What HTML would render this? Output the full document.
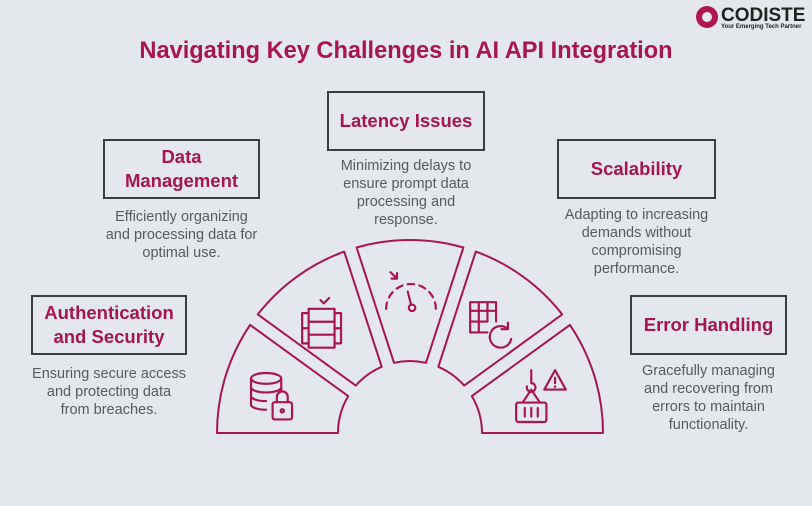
<!DOCTYPE html>
<html><head><meta charset="utf-8"><style>
body{margin:0;width:812px;height:506px;background:#e4e7eb;font-family:"Liberation Sans",sans-serif;position:relative;overflow:hidden}
.t{position:absolute;left:0;width:812px;top:38px;text-align:center;color:#a8154f;font-weight:bold;font-size:23.6px}
.b{position:absolute;border:2px solid #3d3d42;box-sizing:border-box;display:flex;align-items:center;justify-content:center;text-align:center;color:#a8154f;font-weight:bold;font-size:18.5px;line-height:24px}
.d{position:absolute;text-align:center;color:#5a5a5e;font-size:14.5px;line-height:18px}
</style></head><body>
<div class="t">Navigating Key Challenges in AI API Integration</div>
<div style="position:absolute;left:696px;top:6px;width:22px;height:22px;border-radius:50%;background:#b0164f"></div>
<div style="position:absolute;left:702px;top:12px;width:10px;height:10px;border-radius:50%;background:#e4e7eb"></div>
<div style="position:absolute;left:721px;top:5px;font-weight:bold;font-size:19px;color:#222">CODISTE</div>
<div style="position:absolute;left:721px;top:24px;font-weight:bold;font-size:6px;color:#222">Your Emerging Tech Partner</div>

<div class="b" style="left:103px;top:139px;width:157px;height:60px">Data<br>Management</div>
<div class="d" style="left:88px;top:208px;width:187px">Efficiently organizing<br>and processing data for<br>optimal use.</div>
<div class="b" style="left:327px;top:91px;width:158px;height:60px">Latency Issues</div>
<div class="d" style="left:314px;top:157px;width:184px">Minimizing delays to<br>ensure prompt data<br>processing and<br>response.</div>
<div class="b" style="left:557px;top:139px;width:159px;height:60px">Scalability</div>
<div class="d" style="left:544px;top:206px;width:185px">Adapting to increasing<br>demands without<br>compromising<br>performance.</div>
<div class="b" style="left:31px;top:295px;width:156px;height:60px">Authentication<br>and Security</div>
<div class="d" style="left:16px;top:365px;width:186px">Ensuring secure access<br>and protecting data<br>from breaches.</div>
<div class="b" style="left:630px;top:295px;width:157px;height:60px">Error Handling</div>
<div class="d" style="left:616px;top:362px;width:185px">Gracefully managing<br>and recovering from<br>errors to maintain<br>functionality.</div>

<svg id="s" width="812" height="506" style="position:absolute;left:0;top:0" fill="none" stroke="#a8154f" stroke-width="2" stroke-linejoin="round" stroke-linecap="round">
<g transform="translate(251,373) scale(1.08)">
<ellipse cx="14" cy="5" rx="14" ry="5"/><path d="M0 5v24c0 3 6 5 14 5M28 5v12M0 13c0 3 6 5 14 5s14-2 14-5M0 21c0 3 6 5 14 5"/>
<rect x="20" y="27" width="18" height="16" rx="2"/><path d="M24 27v-5a5 5 0 0 1 10 0v5"/><circle cx="29" cy="35" r="1.5"/>
</g>
<g transform="translate(300,298) scale(1.08)">
<path d="M19 2l3 3 5-5"/><rect x="8" y="10" width="24" height="36"/><path d="M8 22h24M8 34h24M8 14H2v28h6M2 28h6M32 14h6v28h-6M32 28h6"/>
</g>
<g transform="translate(384,270) scale(1.08)">
<path d="M6 2l6 6M12 3v5h-5"/><path d="M2 36a23 23 0 0 1 46 0" stroke-dasharray="6 5"/><path d="M22 20l3 12"/><circle cx="26" cy="35" r="3"/>
</g>
<g transform="translate(468,300) scale(1.08)">
<path d="M26 20V2H2v28h16M2 10h24M2 20h16M10 2v28M18 2v18"/><path d="M40 36a10 10 0 1 1-4-10"/><path d="M37 21v6h-6"/>
</g>
<g transform="translate(514,368) scale(1.08)">
<path d="M16 2v12a4 4 0 1 1-4 3"/><path d="M16 20l-8 12M16 20l8 12"/><rect x="2" y="32" width="28" height="18" rx="2"/><path d="M10 37v8M16 37v8M22 37v8"/>
<path d="M38 2l10 18H28z"/><path d="M38 9v5M38 17v.5"/>
</g>
</svg>
<script>
(function(){
var cx=410,cy=433,R=193,r=72,d=6.5,s=document.getElementById('s'),p='';
function pt(rad,a){a=a*Math.PI/180;return (cx+rad*Math.cos(a)).toFixed(1)+' '+(cy-rad*Math.sin(a)).toFixed(1);}
for(var i=0;i<5;i++){
 var a0=180-36*i,a1=144-36*i;
 var oR=Math.asin(d/R)*180/Math.PI,or=Math.asin(d/r)*180/Math.PI;
 var A0R=i==0?180:a0-oR,A0r=i==0?180:a0-or,A1R=i==4?0:a1+oR,A1r=i==4?0:a1+or;
 p+='M'+pt(R,A0R)+' A'+R+' '+R+' 0 0 1 '+pt(R,A1R)+' L'+pt(r,A1r)+' A'+r+' '+r+' 0 0 0 '+pt(r,A0r)+' Z ';
}
var e=document.createElementNS('http://www.w3.org/2000/svg','path');e.setAttribute('d',p);s.appendChild(e);
})();
</script>
</body></html>
